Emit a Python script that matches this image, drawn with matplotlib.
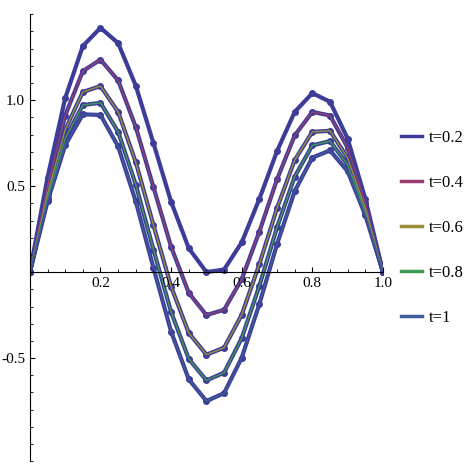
import matplotlib
matplotlib.use("Agg")
import matplotlib.pyplot as plt
from matplotlib.ticker import MultipleLocator
from matplotlib.lines import Line2D

plt.rcParams['font.family'] = ['Liberation Serif', 'DejaVu Serif']

x = [k / 20 for k in range(21)]
labels = ["t=0.2", "t=0.4", "t=0.6", "t=0.8", "t=1"]
colors = ["#3d3d99", "#993d70", "#998f3d", "#3d9954", "#3d5c99"]
y_t02 = [0, .550, 1.012, 1.315, 1.421, 1.332, 1.084, .750, .409, .139, 0,
         .015, .173, .426, .704, .932, 1.041, .991, .776, .426, 0]
y_t04 = [0, .498, .911, 1.169, 1.236, 1.115, .844, .494, .147, -.121, -.25,
         -.219, -.041, .236, .540, .795, .932, .911, .723, .400, 0]
y_t06 = [0, .456, .828, 1.048, 1.082, .932, .639, .273, -.084, -.354, -.48,
         -.440, -.248, .047, .373, .652, .816, .822, .664, .370, 0]
y_t08 = [0, .430, .776, .972, .985, .816, .509, .131, -.232, -.505, -.63,
         -.585, -.384, -.079, .261, .556, .737, .762, .624, .350, 0]
y_t1 = [0, .411, .738, .918, .914, .731, .411, .025, -.346, -.624, -.75,
        -.704, -.498, -.185, .163, .471, .666, .708, .586, .331, 0]
series = [y_t02, y_t04, y_t06, y_t08, y_t1]

fig = plt.figure(figsize=(4.74, 4.75), dpi=100)
ax = fig.add_axes([0.063, 0.029, 0.745, 0.941])
for ys, c in zip(series, colors):
    ax.plot(x, ys, color="#3d3d99", lw=3, zorder=1,
            marker='o', ms=4, linestyle='-')
    ax.plot(x, ys, color=c, lw=1.0, zorder=2)

ax.set_xlim(0, 1.0)
ax.set_ylim(-1.1, 1.5)
for s in ['top', 'right']:
    ax.spines[s].set_visible(False)
ax.spines['bottom'].set_position(('data', 0))
ax.spines['left'].set_position(('data', 0))
ax.set_xticks([0.2, 0.4, 0.6, 0.8, 1.0])
ax.set_xticklabels(["0.2", "0.4", "0.6", "0.8", "1.0"])
ax.set_yticks([-0.5, 0.5, 1.0])
ax.set_yticklabels(["-0.5", "0.5", "1.0"])
ax.xaxis.set_minor_locator(MultipleLocator(0.05))
ax.yaxis.set_minor_locator(MultipleLocator(0.1))
ax.tick_params(direction='in', labelsize=11)
ax.tick_params(which='minor', direction='in', length=2)

handles = [Line2D([0], [0], color=c, lw=2.5) for c in colors]
fig.legend(handles, labels, loc='center left', bbox_to_anchor=(0.845, 0.52),
           frameon=False, fontsize=12, handlelength=1.3, labelspacing=1.75,
           borderpad=0, borderaxespad=0, handletextpad=0.4)
fig.savefig("out.png", dpi=100)
